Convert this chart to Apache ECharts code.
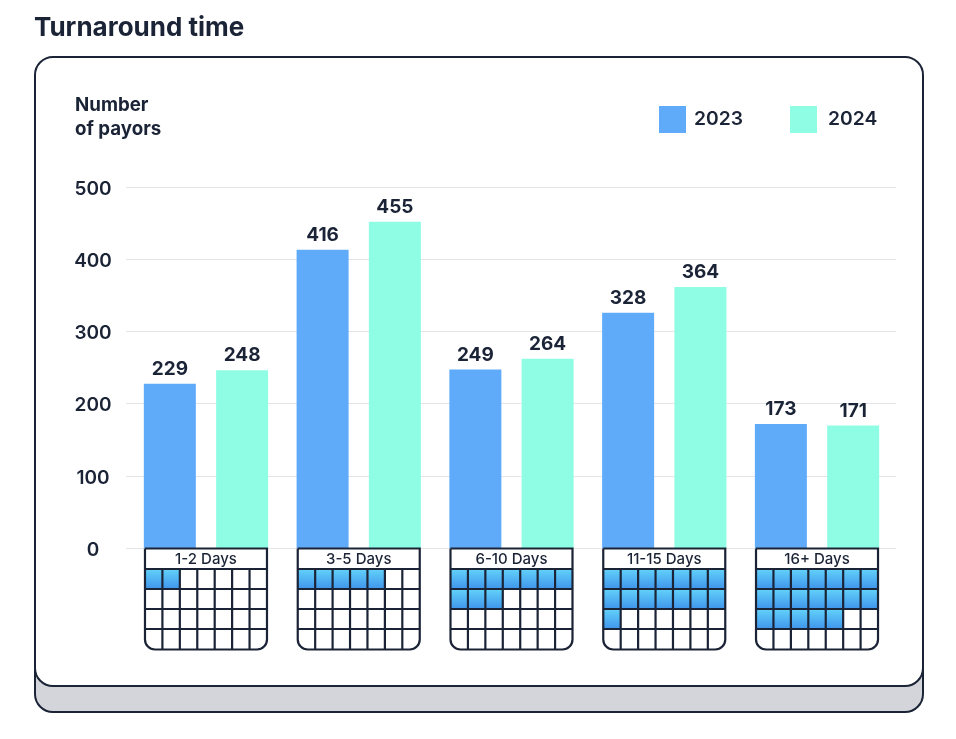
<!DOCTYPE html>
<html>
<head>
<meta charset="utf-8">
<style>html,body{margin:0;padding:0;background:#fff}#c{width:956px;height:739px}</style>
<script src="https://cdn.jsdelivr.net/npm/echarts@6/dist/echarts.min.js"></script>
</head>
<body>
<div id="c"></div>
<script>
const categories = ['1-2 Days', '3-5 Days', '6-10 Days', '11-15 Days', '16+ Days'];
const values2023 = [229, 416, 249, 328, 173];
const values2024 = [248, 455, 264, 364, 171];
const filledCells = [2, 5, 10, 15, 19];
const yTicks = [0, 100, 200, 300, 400, 500];

const INK = '#1b2436';
const FONT = 'Inter';
const COLS = 7, ROWS = 4;

function renderTable(params, api) {
  const idx = api.value(0);
  const filled = api.value(1);
  const p = api.coord([idx, 0]);
  const W = 122, HEAD = 20.5, ROW = 20, cw = W / COLS;
  const x0 = p[0] - W / 2, y0 = p[1] + 0.5;
  const yBody = y0 + HEAD, H = HEAD + ROW * ROWS + 0.5;
  const lineStyle = { stroke: INK, lineWidth: 2.2, fill: null };
  const kids = [];
  kids.push({ type: 'rect', shape: { x: x0, y: y0, width: W, height: H, r: [0, 0, 10, 10] },
    style: { fill: '#fff', stroke: null } });
  for (let i = 0; i < filled; i++) {
    const r = Math.floor(i / COLS), c = i % COLS;
    kids.push({ type: 'rect', shape: { x: x0 + c * cw, y: yBody + r * ROW, width: cw, height: ROW },
      style: { fill: new echarts.graphic.LinearGradient(0, 0, 0, 1, [
        { offset: 0, color: '#62d2f9' }, { offset: 1, color: '#4095ec' }]) } });
  }
  for (let c = 1; c < COLS; c++) {
    kids.push({ type: 'line', shape: { x1: x0 + c * cw, y1: yBody, x2: x0 + c * cw, y2: y0 + H }, style: lineStyle });
  }
  for (let r = 0; r < ROWS; r++) {
    kids.push({ type: 'line', shape: { x1: x0, y1: yBody + r * ROW, x2: x0 + W, y2: yBody + r * ROW }, style: lineStyle });
  }
  kids.push({ type: 'rect', shape: { x: x0, y: y0, width: W, height: H, r: [0, 0, 10, 10] }, style: lineStyle });
  kids.push({ type: 'text', style: {
    text: categories[idx], x: p[0], y: y0 + HEAD / 2 + 0.5, align: 'center', verticalAlign: 'middle',
    fill: INK, font: '500 15px ' + FONT } });
  return { type: 'group', children: kids };
}

const barLabel = { show: true, position: 'top', distance: 5, color: INK,
  fontFamily: FONT, fontSize: 19, fontWeight: 700 };
const legendText = { color: INK, fontFamily: FONT, fontSize: 19.3, fontWeight: 600 };

const chart = echarts.init(document.getElementById('c'), null, { renderer: 'canvas' });
chart.setOption({
  animation: false,
  backgroundColor: '#ffffff',
  title: [
    { text: 'Turnaround time', left: 29, top: 10,
      textStyle: { color: INK, fontFamily: FONT, fontSize: 26, fontWeight: 700 } },
    { text: 'Number\nof payors', left: 70, top: 89,
      textStyle: { color: INK, fontFamily: FONT, fontSize: 18.7, fontWeight: 700, lineHeight: 23.5 } }
  ],
  legend: {
    left: 654, top: 101, itemWidth: 27, itemHeight: 27, itemGap: 47,
    icon: 'rect',
    textStyle: legendText,
    data: [
      { name: '2023', textStyle: { ...legendText, padding: [2, 0, 0, 3] } },
      { name: '2024', textStyle: { ...legendText, padding: [2, 0, 0, 6] } }
    ]
  },
  graphic: [
    { type: 'rect', z: -10, silent: true, shape: { x: 35, y: 120, width: 888, height: 592, r: 18 },
      style: { fill: '#d4d5da', stroke: INK, lineWidth: 2 } },
    { type: 'rect', z: -9, silent: true, shape: { x: 35, y: 57, width: 888, height: 629, r: 18 },
      style: { fill: '#ffffff', stroke: INK, lineWidth: 2 } }
  ],
  grid: [
    { left: 126, width: 770, top: 187, height: 361 },
    { left: 129.6, width: 763.8, top: 189.5, height: 358.5 }
  ],
  xAxis: [
    { gridIndex: 0, type: 'category', data: categories, show: false },
    { gridIndex: 1, type: 'category', data: categories,
      axisLine: { show: false }, axisTick: { show: false }, axisLabel: { show: false } }
  ],
  yAxis: [
    { gridIndex: 0, type: 'value', min: yTicks[0], max: yTicks[yTicks.length - 1], interval: 100,
      axisLine: { show: false }, axisTick: { show: false },
      axisLabel: { align: 'center', margin: 33, formatter: '{v|{value}}',
        rich: { v: { color: INK, fontFamily: FONT, fontSize: 19, fontWeight: 600, padding: [4, 0, 0, 0] } } },
      splitLine: { show: true, lineStyle: { color: '#e4e5e8', width: 1 } } },
    { gridIndex: 1, type: 'value', min: yTicks[0], max: yTicks[yTicks.length - 1], interval: 100, show: false,
      splitLine: { show: false } }
  ],
  series: [
    { name: '2023', type: 'bar', xAxisIndex: 1, yAxisIndex: 1, data: values2023, barWidth: 52, barGap: '39%',
      itemStyle: { color: '#5fabf9' }, label: barLabel },
    { name: '2024', type: 'bar', xAxisIndex: 1, yAxisIndex: 1, data: values2024, barWidth: 52,
      itemStyle: { color: '#8ffde3' }, label: barLabel },
    { name: 'table', type: 'custom', xAxisIndex: 1, yAxisIndex: 1, silent: true, clip: false, z: 5,
      renderItem: renderTable, encode: { x: 0 },
      data: filledCells.map((n, i) => [i, n]) }
  ]
});
</script>
</body>
</html>
